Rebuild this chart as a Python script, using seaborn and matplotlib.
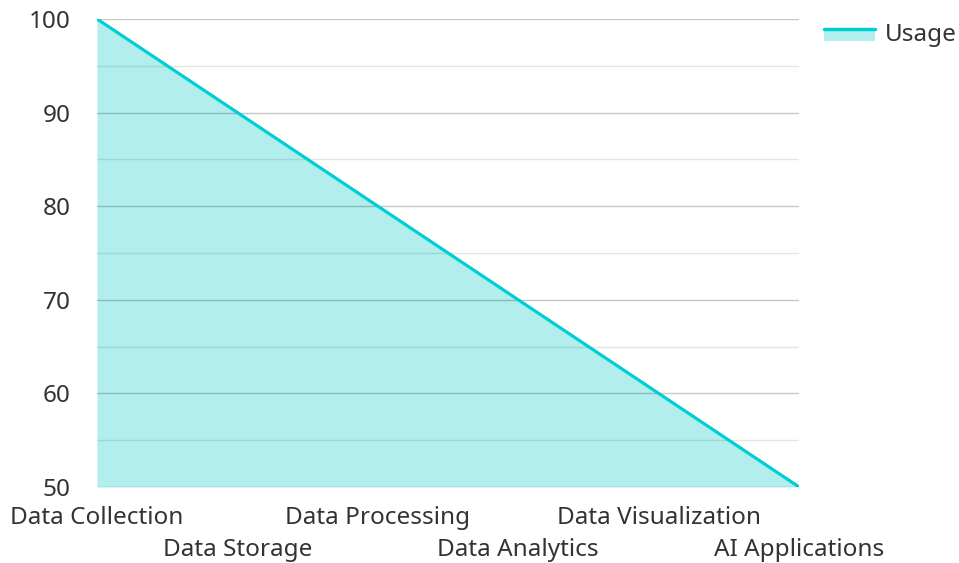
import matplotlib
matplotlib.use("Agg")
import matplotlib.pyplot as plt
import matplotlib.transforms as mtransforms
import seaborn as sns
import pandas as pd
from matplotlib.legend_handler import HandlerBase
from matplotlib.patches import Rectangle
from matplotlib.lines import Line2D

# chart data
stages = ["Data Collection", "Data Storage", "Data Processing",
          "Data Analytics", "Data Visualization", "AI Applications"]
usage = [100, 90, 80, 70, 60, 50]
y_ticks = [50, 60, 70, 80, 90, 100]

LINE = "#00CED1"
FILL = "#B2EEEE"
TEXT = "#333333"
FS = 17.5

sns.set_style("white")
plt.rcParams["font.family"] = ["Noto Sans", "DejaVu Sans"]


class AreaHandler(HandlerBase):
    """Legend key: filled box with a thick line on top."""

    def create_artists(self, legend, orig, xd, yd, width, height, fontsize, trans):
        rect = Rectangle((xd, yd), width, height * 0.8, facecolor=FILL,
                         edgecolor="none", transform=trans)
        line = Line2D([xd, xd + width], [yd + height * 0.8] * 2,
                      color=LINE, lw=2.5, transform=trans)
        return [rect, line]


df = pd.DataFrame({"stage": stages, "usage": usage})
df["pos"] = range(len(stages))

fig = plt.figure(figsize=(9.59, 5.63), dpi=100)
ax = fig.add_axes([0.1011, 0.135, 0.7321, 0.8314])

ax.fill_between(df["pos"], df["usage"], 50, color=FILL, lw=0, zorder=1)
sns.lineplot(data=df, x="pos", y="usage", color=LINE, lw=2.3, ax=ax,
             zorder=3, label="Usage")

ax.set_xlim(0, len(stages) - 1)
ax.set_ylim(50, 100)
ax.set_yticks(y_ticks)
ax.set_yticks([55, 65, 75, 85, 95], minor=True)
ax.grid(axis="y", which="major", color="#000000", alpha=0.22, lw=1, zorder=2)
ax.grid(axis="y", which="minor", color="#000000", alpha=0.1, lw=1, zorder=2)
ax.set_axisbelow(False)
for s in ax.spines.values():
    s.set_visible(False)

ax.set_xticks(df["pos"])
ax.set_xticklabels(stages, fontsize=FS, color=TEXT)
ax.tick_params(axis="x", length=0, pad=14)
ax.tick_params(axis="y", length=0, pad=19, labelsize=FS, labelcolor=TEXT)
ax.set_xlabel("")
ax.set_ylabel("")

# stagger every second category label onto a lower row
shift = mtransforms.ScaledTranslation(0, -32 / 100, fig.dpi_scale_trans)
for i, lab in enumerate(ax.get_xticklabels()):
    if i % 2:
        lab.set_transform(lab.get_transform() + shift)

ax.legend(handles=[ax.lines[0]], labels=["Usage"], handler_map={ax.lines[0]: AreaHandler()},
          loc="upper left", bbox_to_anchor=(1.004, 1.039), frameon=False,
          fontsize=FS, handlelength=2.1, handleheight=0.6, handletextpad=0.42,
          labelcolor=TEXT)

fig.savefig("out.png", dpi=100)
plt.close(fig)
